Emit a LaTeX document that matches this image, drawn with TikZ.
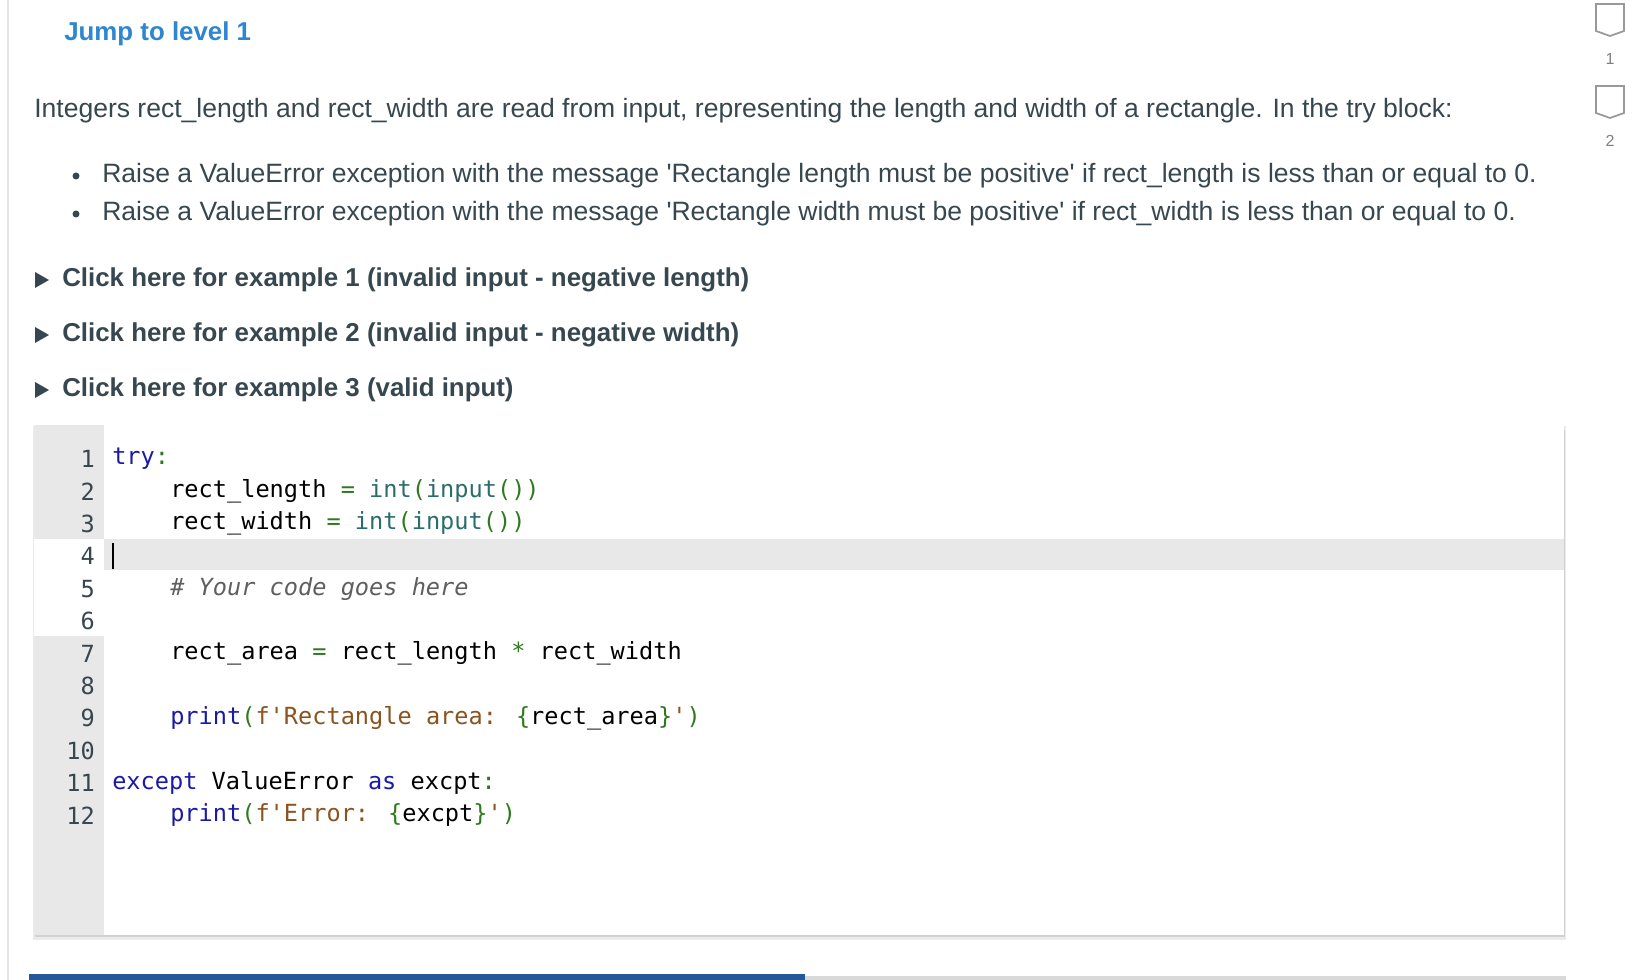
\documentclass[tikz,border=0pt]{standalone}
\usepackage{fontspec}
\setmainfont{Liberation Sans}
\newfontfamily\codefont{DejaVu Sans Mono}
\definecolor{txt}{HTML}{37474F}
\definecolor{linkblue}{HTML}{2F86D0}
\definecolor{kw}{HTML}{1A1AA6}
\definecolor{bi}{HTML}{2A6E6B}
\definecolor{pun}{HTML}{2E7A1E}
\definecolor{str}{HTML}{8A5420}
\definecolor{cmt}{HTML}{5F5F5F}
\definecolor{gut}{HTML}{E8E8E8}
\definecolor{barblue}{HTML}{24589A}
\newcommand{\sq}{\textquotesingle}
\begin{document}
\begin{tikzpicture}[x=0.75pt,y=-0.75pt,
  para/.style={anchor=west,inner sep=0,text=txt,font=\fontsize{19.9}{22}\selectfont},
  head/.style={anchor=west,inner sep=0,text=txt,font=\fontsize{19.4}{22}\selectfont\bfseries},
  code/.style={anchor=west,inner sep=0,font=\codefont\fontsize{17.7}{20}\selectfont},
  lnum/.style={anchor=east,inner sep=0,text=txt,font=\codefont\fontsize{17.7}{20}\selectfont},
  tri/.style={fill=txt}]
\useasboundingbox (0,0) rectangle (1632,980);
\fill[white] (0,0) rectangle (1632,980);
\draw[gray!20,line width=1.5] (8,0) -- (8,980);
% header
\node[anchor=west,inner sep=0,text=linkblue,font=\fontsize{19.4}{22}\selectfont\bfseries] (jump) at (64,34) {Jump to level 1};
\node[para] (p) at (34,111) {Integers rect\_length and rect\_width are read from input, representing the length and width of a rectangle. In the try block:};
\fill[txt] (76,176) circle (3.5);
\fill[txt] (76,214) circle (3.5);
\node[para] (b1) at (102,176) {Raise a ValueError exception with the message \sq Rectangle length must be positive\sq{} if rect\_length is less than or equal to 0.};
\node[para] (b2) at (102,214) {Raise a ValueError exception with the message \sq Rectangle width must be positive\sq{} if rect\_width is less than or equal to 0.};
% examples
\foreach \yy in {280,335,390} \fill[txt] (35,\yy-8) -- (49,\yy) -- (35,\yy+8) -- cycle;
\node[head] (e1) at (62,280) {Click here for example 1 (invalid input - negative length)};
\node[head] (e2) at (62,335) {Click here for example 2 (invalid input - negative width)};
\node[head] (e3) at (62,390) {Click here for example 3 (valid input)};
% side icons
\foreach \yy/\nn in {4/1,86/2}{
  \draw[gray!80,line width=1.3] (1596,\yy) -- (1624,\yy) -- (1624,\yy+27) -- (1610,\yy+32) -- (1596,\yy+27) -- cycle;
  \node[inner sep=0,text=gray,font=\fontsize{12}{14}\selectfont] at (1610,\yy+55) {\nn};
}
% code box
\fill[black!8] (33,426) rectangle (1566,940);
\fill[black!18] (35,430) rectangle (1565,937);
\fill[white] (34,425) rectangle (1564,935);
\fill[gut] (34,425) rectangle (104,539);
\fill[gut] (104,539) rectangle (1564,570);
\fill[gut] (34,636) rectangle (104,935);
\draw[black,line width=1.5] (113,543) -- (113,569);
\foreach \i in {1,...,12} \node[lnum] at (95,{459+32.4*(\i-1)}) {\i};
\node[code] (l1) at (112,459) {\textcolor{kw}{try}\textcolor{pun}{:}};
\node[code] (l2) at (170,491.4) {rect\_length \textcolor{pun}{=} \textcolor{bi}{int}\textcolor{pun}{(}\textcolor{bi}{input}\textcolor{pun}{())}};
\node[code] (l3) at (170,523.8) {rect\_width \textcolor{pun}{=} \textcolor{bi}{int}\textcolor{pun}{(}\textcolor{bi}{input}\textcolor{pun}{())}};
\node[code,text=cmt] (l5) at (170,588.6) {\itshape\# Your code goes here};
\node[code] (l7) at (170,653.4) {rect\_area \textcolor{pun}{=} rect\_length \textcolor{pun}{*} rect\_width};
\node[code] (l9) at (170,718.2) {\textcolor{kw}{print}\textcolor{pun}{(}\textcolor{str}{f'Rectangle area: }\textcolor{pun}{\{}rect\_area\textcolor{pun}{\}}\textcolor{str}{'}\textcolor{pun}{)}};
\node[code] (l11) at (112,783) {\textcolor{kw}{except} ValueError \textcolor{kw}{as} excpt\textcolor{pun}{:}};
\node[code] (l12) at (170,815.4) {\textcolor{kw}{print}\textcolor{pun}{(}\textcolor{str}{f'Error: }\textcolor{pun}{\{}excpt\textcolor{pun}{\}}\textcolor{str}{'}\textcolor{pun}{)}};
% bottom bar
\fill[gray!30] (805,976) rectangle (1566,980);
\fill[barblue] (29,974) rectangle (805,980);
\end{tikzpicture}
\end{document}
